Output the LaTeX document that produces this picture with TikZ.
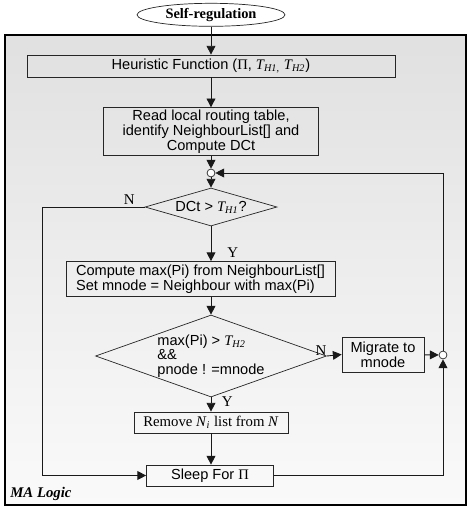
\documentclass[tikz,border=0pt]{standalone}
\usepackage{fontspec}
\setmainfont{Liberation Serif}
\setsansfont{Liberation Sans}
\usetikzlibrary{arrows.meta,positioning,shapes.geometric}
\newcommand{\thold}[1]{{\rmfamily\itshape T\textsubscript{#1}}}
\newcommand{\pisym}{{\rmfamily\textup{Π}}}

\begin{document}
\begin{tikzpicture}[x=0.02cm, y=-0.02cm, node distance=0.6cm, >={Triangle[length=5pt,width=5pt]}]
        \tikzstyle{frame} = [rectangle, draw=black!85, inner sep=1pt, align=center, font=\sffamily\fontsize{8.3}{8.5}\selectfont]
        \tikzstyle{decision} = [diamond, draw=black!85, inner sep=0pt, align=left, font=\sffamily\fontsize{8.3}{8.1}\selectfont]
        \tikzstyle{joint} = [circle, draw=black!85, fill=white, inner sep=0pt, minimum size=4.5pt]
        \tikzstyle{line} = [draw=black!90, line width=0.5pt, ->]
        \tikzstyle{answer} = [font=\rmfamily\fontsize{8.5}{8.5}\selectfont, inner sep=1pt]
        \useasboundingbox (0,0) rectangle (474,510);
        % MA logic frame
        \draw [line width=1.2pt, top color=black!12, bottom color=black!2] (5,35) rectangle (466,505);
        \node [anchor=west, inner sep=0pt, font=\rmfamily\bfseries\itshape\fontsize{8.4}{8.4}\selectfont] (malogic) at (10,494) {MA Logic};
        % flow nodes
        \node [frame, minimum width=7.36cm, minimum height=0.44cm] (heur) at (211,66) {Heuristic Function (\pisym, \thold{H1,} \thold{H2})};
        \node [ellipse, draw=black!85, fill=white, inner sep=0pt, minimum width=2.96cm, minimum height=0.46cm, above=0.56cm of heur, font=\rmfamily\bfseries\fontsize{8.2}{8.2}\selectfont] (selfreg) {Self-regulation};
        \node [frame, minimum width=4.3cm, minimum height=0.96cm, below=0.6cm of heur] (read) {Read local routing table,\\identify NeighbourList[] and\\Compute DCt};
        \node [joint] (c1) at (211,173) {};
        \node [decision, aspect=3.47, minimum width=2.64cm, minimum height=0.76cm] (d1) at (211,207) {DCt > \thold{H1}?};
        \node [frame, align=left, minimum width=5.38cm, minimum height=0.7cm] (compute) at (200.5,279) {Compute max(Pi) from NeighbourList[]\\Set mnode = Neighbour with max(Pi)};
        \node [decision, aspect=2.82, minimum width=4.62cm, minimum height=1.64cm] (d2) at (211,356) {max(Pi) > \thold{H2}\\\&\&\\pnode ! =mnode};
        \node [frame, minimum width=1.64cm, minimum height=0.7cm] (migrate) at (383,354.5) {Migrate to\\mnode};
        \node [joint] (c2) at (443,355) {};
        \node [frame, minimum width=3.08cm, minimum height=0.42cm, font=\rmfamily\fontsize{8.4}{8.4}\selectfont] (remove) at (211,422.5) {Remove \textit{N}\textsubscript{\textit{i}} list from \textit{N}};
        \node [frame, minimum width=2.54cm, minimum height=0.42cm] (sleep) at (210,475.5) {Sleep For \pisym};
        \coordinate (leftrail) at (42,0);
        % connectors
        \path [line] (selfreg) -- (heur);
        \path [line] (heur) -- (read);
        \path [line] (read) -- (c1);
        \path [line] (c1) -- (d1);
        \path [line] (d1.west) -- node[answer, above, pos=.15] {N} (d1.west -| leftrail) |- (sleep);
        \path [line] (d1.south) -- node[answer, right=8pt, pos=.75] {Y} (d1.south |- compute.north);
        \path [line] (compute.south -| d2.north) -- (d2.north);
        \path [line] (d2.east) -- (migrate.west);
        \node [answer, anchor=south east, inner sep=0pt] at (d2.east) {N};
        \path [line] (migrate) -- (c2);
        \path [line] (d2.south) -- node[answer, right=5pt, pos=.3] {Y} (d2.south |- remove.north);
        \path [line] (remove.south) -- (remove.south |- sleep.north);
        \path [line] (sleep) -| (c2);
        \path [line] (c2) |- (c1);
    \end{tikzpicture}
\end{document}
